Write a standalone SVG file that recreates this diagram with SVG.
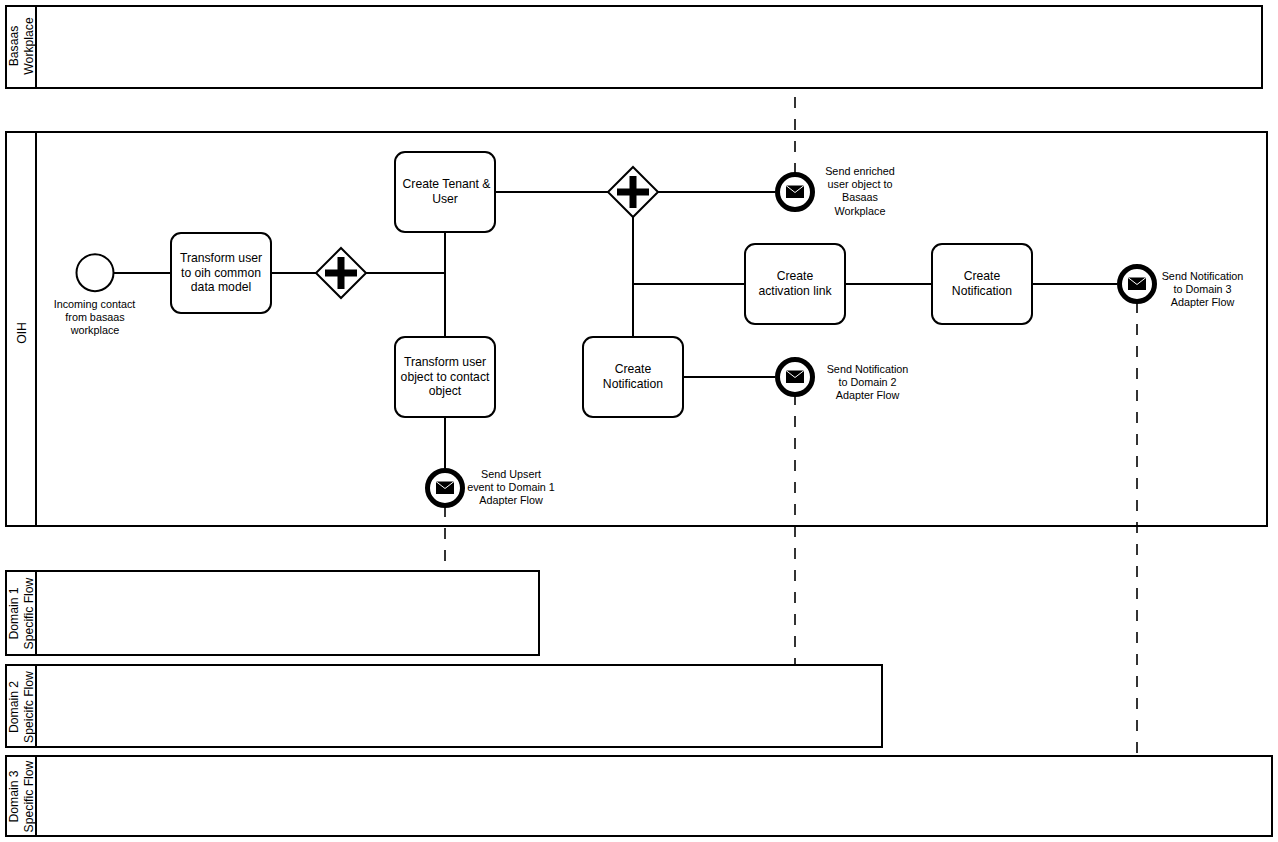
<svg xmlns="http://www.w3.org/2000/svg" width="1278" height="842" viewBox="0 0 1278 842">
<defs>
<style>
text{font-family:"Liberation Sans",Arial,sans-serif;fill:#000;text-anchor:middle}
.t{font-size:12.2px}
.s{font-size:10.8px}
.p{fill:#fff;stroke:#000;stroke-width:2}
.task{fill:#fff;stroke:#000;stroke-width:2}
.f{fill:none;stroke:#000;stroke-width:2}
.d{fill:none;stroke:#000;stroke-width:2;stroke-dasharray:11 11;opacity:.8}
.ee{fill:#fff;stroke:#000;stroke-width:5}
</style>
<g id="gw"><path d="M0,-25 L25,0 L0,25 L-25,0 Z" class="p"/><path d="M-16,-3.500H-3.500V-16H3.500V-3.500H16V3.500H3.500V16H-3.500V3.500H-16Z" fill="#000"/></g>
<g id="end"><circle r="17.500" class="ee"/><path d="M-9,-6.500 H9 V6 H-9 Z" fill="#000"/><path d="M-9,-6.500 L0,0.500 L9,-6.500" fill="none" stroke="#fff" stroke-width="1"/></g>
</defs>
<rect width="1278" height="842" fill="#fff"/>
<g id="pool-basaas"><rect class="p" x="6" y="6" width="1256" height="82"/><path class="f" d="M36,6V88"/><text class="t" transform="translate(18,46) rotate(-90)"><tspan x="0" y="0">Basaas</tspan><tspan x="0" y="14.500">Workplace</tspan></text></g>
<g id="pool-oih"><rect class="p" x="6" y="132" width="1261" height="394"/><path class="f" d="M36,132V526"/><text class="t" transform="translate(26,333) rotate(-90)" x="0" y="0">OIH</text></g>
<g id="pool-d1"><rect class="p" x="6" y="571" width="533" height="84"/><path class="f" d="M36,571V655"/><text class="t" transform="translate(18,613.500) rotate(-90)"><tspan x="0" y="0">Domain 1</tspan><tspan x="0" y="14.500">Specific Flow</tspan></text></g>
<g id="pool-d2"><rect class="p" x="6" y="665" width="876" height="82"/><path class="f" d="M36,665V747"/><text class="t" transform="translate(18,707) rotate(-90)"><tspan x="0" y="0">Domain 2</tspan><tspan x="0" y="14.500">Speicifc Flow</tspan></text></g>
<g id="pool-d3"><rect class="p" x="6" y="756" width="1266" height="80"/><path class="f" d="M36,756V836"/><text class="t" transform="translate(18,796.500) rotate(-90)"><tspan x="0" y="0">Domain 3</tspan><tspan x="0" y="14.500">Specific Flow</tspan></text></g>
<g id="connectors">
<path class="f" d="M114,273H171"/><path class="f" d="M271,273H316"/><path class="f" d="M366,273H445"/><path class="f" d="M445,232V337"/><path class="f" d="M445,417V468"/><path class="f" d="M495,192H608"/><path class="f" d="M658,192H775"/><path class="f" d="M633,217V337"/><path class="f" d="M633,284H745"/><path class="f" d="M845,284H932"/><path class="f" d="M1032,284H1117"/><path class="f" d="M683,377H775"/>
<path class="d" d="M795,97V175"/><path class="d" d="M445,506V561"/><path class="d" d="M795,394V665"/><path class="d" d="M1137,302V753"/>
</g>
<g id="start"><circle cx="95" cy="272.700" r="18.500" fill="#fff" stroke="#000" stroke-width="2"/><text class="s" x="94.500" y="308">Incoming contact</text><text class="s" x="95" y="321">from basaas</text><text class="s" x="95" y="334">workplace</text></g>
<g id="t1"><rect class="task" x="171" y="233" width="100" height="80" rx="10"/><text class="t" x="221" y="262">Transform user</text><text class="t" x="221" y="277">to oih common</text><text class="t" x="221" y="291">data model</text></g>
<g id="g1"><use href="#gw" x="341" y="273"/></g>
<g id="t2"><rect class="task" x="395" y="152" width="100" height="80" rx="10"/><text class="t" x="446.500" y="188">Create Tenant &amp;</text><text class="t" x="445" y="203">User</text></g>
<g id="t3"><rect class="task" x="395" y="337" width="100" height="80" rx="10"/><text class="t" x="445" y="366">Transform user</text><text class="t" x="445" y="381">object to contact</text><text class="t" x="445" y="395">object</text></g>
<g id="g2"><use href="#gw" x="633" y="192"/></g>
<g id="e1"><use href="#end" x="795" y="192"/><text class="s" x="860" y="175">Send enriched</text><text class="s" x="860" y="188">user object to</text><text class="s" x="860" y="201">Basaas</text><text class="s" x="860" y="215">Workplace</text></g>
<g id="t4"><rect class="task" x="745" y="244" width="100" height="80" rx="10"/><text class="t" x="795" y="280">Create</text><text class="t" x="795" y="295">activation link</text></g>
<g id="t5"><rect class="task" x="932" y="244" width="100" height="80" rx="10"/><text class="t" x="982" y="280">Create</text><text class="t" x="982" y="295">Notification</text></g>
<g id="e2"><use href="#end" x="1137" y="284"/><text class="s" x="1202.500" y="280">Send Notification</text><text class="s" x="1202.500" y="293">to Domain 3</text><text class="s" x="1202.500" y="306">Adapter Flow</text></g>
<g id="t6"><rect class="task" x="583" y="337" width="100" height="80" rx="10"/><text class="t" x="633" y="373">Create</text><text class="t" x="633" y="388">Notification</text></g>
<g id="e3"><use href="#end" x="795" y="377"/><text class="s" x="867.500" y="373">Send Notification</text><text class="s" x="867.500" y="386">to Domain 2</text><text class="s" x="867.500" y="399">Adapter Flow</text></g>
<g id="e4"><use href="#end" x="445" y="488"/><text class="s" x="511" y="478">Send Upsert</text><text class="s" x="511" y="491">event to Domain 1</text><text class="s" x="511" y="504">Adapter Flow</text></g>
</svg>
